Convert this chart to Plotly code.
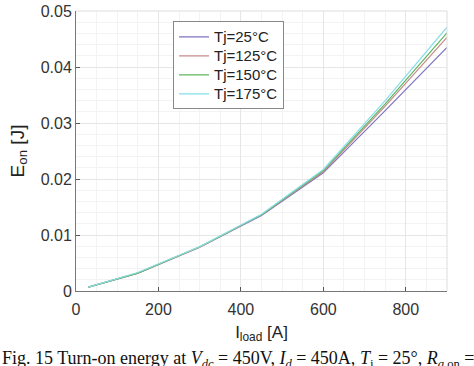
import plotly.graph_objects as go

i_load = [30, 150, 300, 450, 600, 750, 900]
e_25 = [0.0007, 0.0032, 0.0078, 0.0135, 0.0211, 0.0322, 0.0435]
e_125 = [0.0007, 0.0032, 0.0078, 0.0136, 0.0213, 0.0330, 0.0453]
e_150 = [0.0007, 0.0032, 0.0079, 0.0136, 0.0215, 0.0334, 0.0461]
e_175 = [0.0007, 0.0033, 0.0079, 0.0137, 0.0217, 0.0340, 0.0471]
names = ["Tj=25°C", "Tj=125°C", "Tj=150°C", "Tj=175°C"]
colors = ["#7f72bf", "#c88a8a", "#5fb55f", "#86dfe6"]
x_ticks = [0, 200, 400, 600, 800]
y_ticks = [0, 0.01, 0.02, 0.03, 0.04, 0.05]
y_tick_text = ["0", "0.01", "0.02", "0.03", "0.04", "0.05"]

fig = go.Figure()
for n, c, e in zip(names, colors, [e_25, e_125, e_150, e_175]):
    fig.add_trace(go.Scatter(x=i_load, y=e, mode="lines",
                             name="<span style='font-size:15px'>" + n + "</span>",
                             line=dict(color=c, width=1.2)))

font = "Liberation Sans, Arial, sans-serif"
fig.update_layout(
    width=474, height=366,
    margin=dict(l=76, r=27, t=11, b=75),
    paper_bgcolor="white", plot_bgcolor="white",
    font=dict(family=font, size=16, color="#333333"),
    showlegend=True,
    legend=dict(x=0.2615, y=0.963, xanchor="left", yanchor="top",
                bgcolor="white", bordercolor="#888888", borderwidth=1,
                font=dict(size=12, color="#222222"),
                tracegroupgap=0, itemwidth=30),
    xaxis=dict(range=[0, 900], tickvals=x_ticks, ticks="inside", ticklen=4,
               tickcolor="#555555", showline=True, linecolor="#777777",
               mirror=False, showgrid=True, gridcolor="#e6e6e6", gridwidth=1,
               zeroline=False, automargin=False, ticklabelstandoff=4,
               minor=dict(dtick=50, showgrid=True, gridcolor="#f3f3f3"),
               title=dict(text="I<sub>load</sub> [A]", standoff=8,
                          font=dict(size=17, color="#222222"))),
    yaxis=dict(range=[0, 0.05], tickvals=y_ticks, ticktext=y_tick_text,
               ticks="inside", ticklen=4, tickcolor="#555555",
               showline=True, linecolor="#777777", showgrid=True,
               gridcolor="#e6e6e6", zeroline=False, automargin=False,
               minor=dict(dtick=0.002, showgrid=True, gridcolor="#f3f3f3"),
               title=dict(text="E<sub>on</sub> [J]", standoff=11,
                          font=dict(size=19, color="#222222"))),
)
fig.add_shape(type="line", xref="paper", yref="paper", x0=0, x1=1, y0=1, y1=1,
              line=dict(color="#dddddd", width=1))
fig.add_shape(type="line", xref="paper", yref="paper", x0=1, x1=1, y0=0, y1=1,
              line=dict(color="#dddddd", width=1))

fig.add_annotation(
    xref="paper", yref="paper", x=-0.206, y=-0.197, xanchor="left", yanchor="top",
    showarrow=False,
    text="Fig. 15 Turn-on energy at <i>V</i><sub><i>dc</i></sub> = 450V, <i>I</i><sub><i>d</i></sub> = 450A, <i>T</i><sub>j</sub> = 25°, <i>R</i><sub><i>g</i> on</sub> = 13",
    font=dict(family="Liberation Serif, Times New Roman, serif", size=18, color="#111111"),
)

fig.write_html("out.html", config={"displayModeBar": False},
               post_script="document.body.style.margin='0';")
